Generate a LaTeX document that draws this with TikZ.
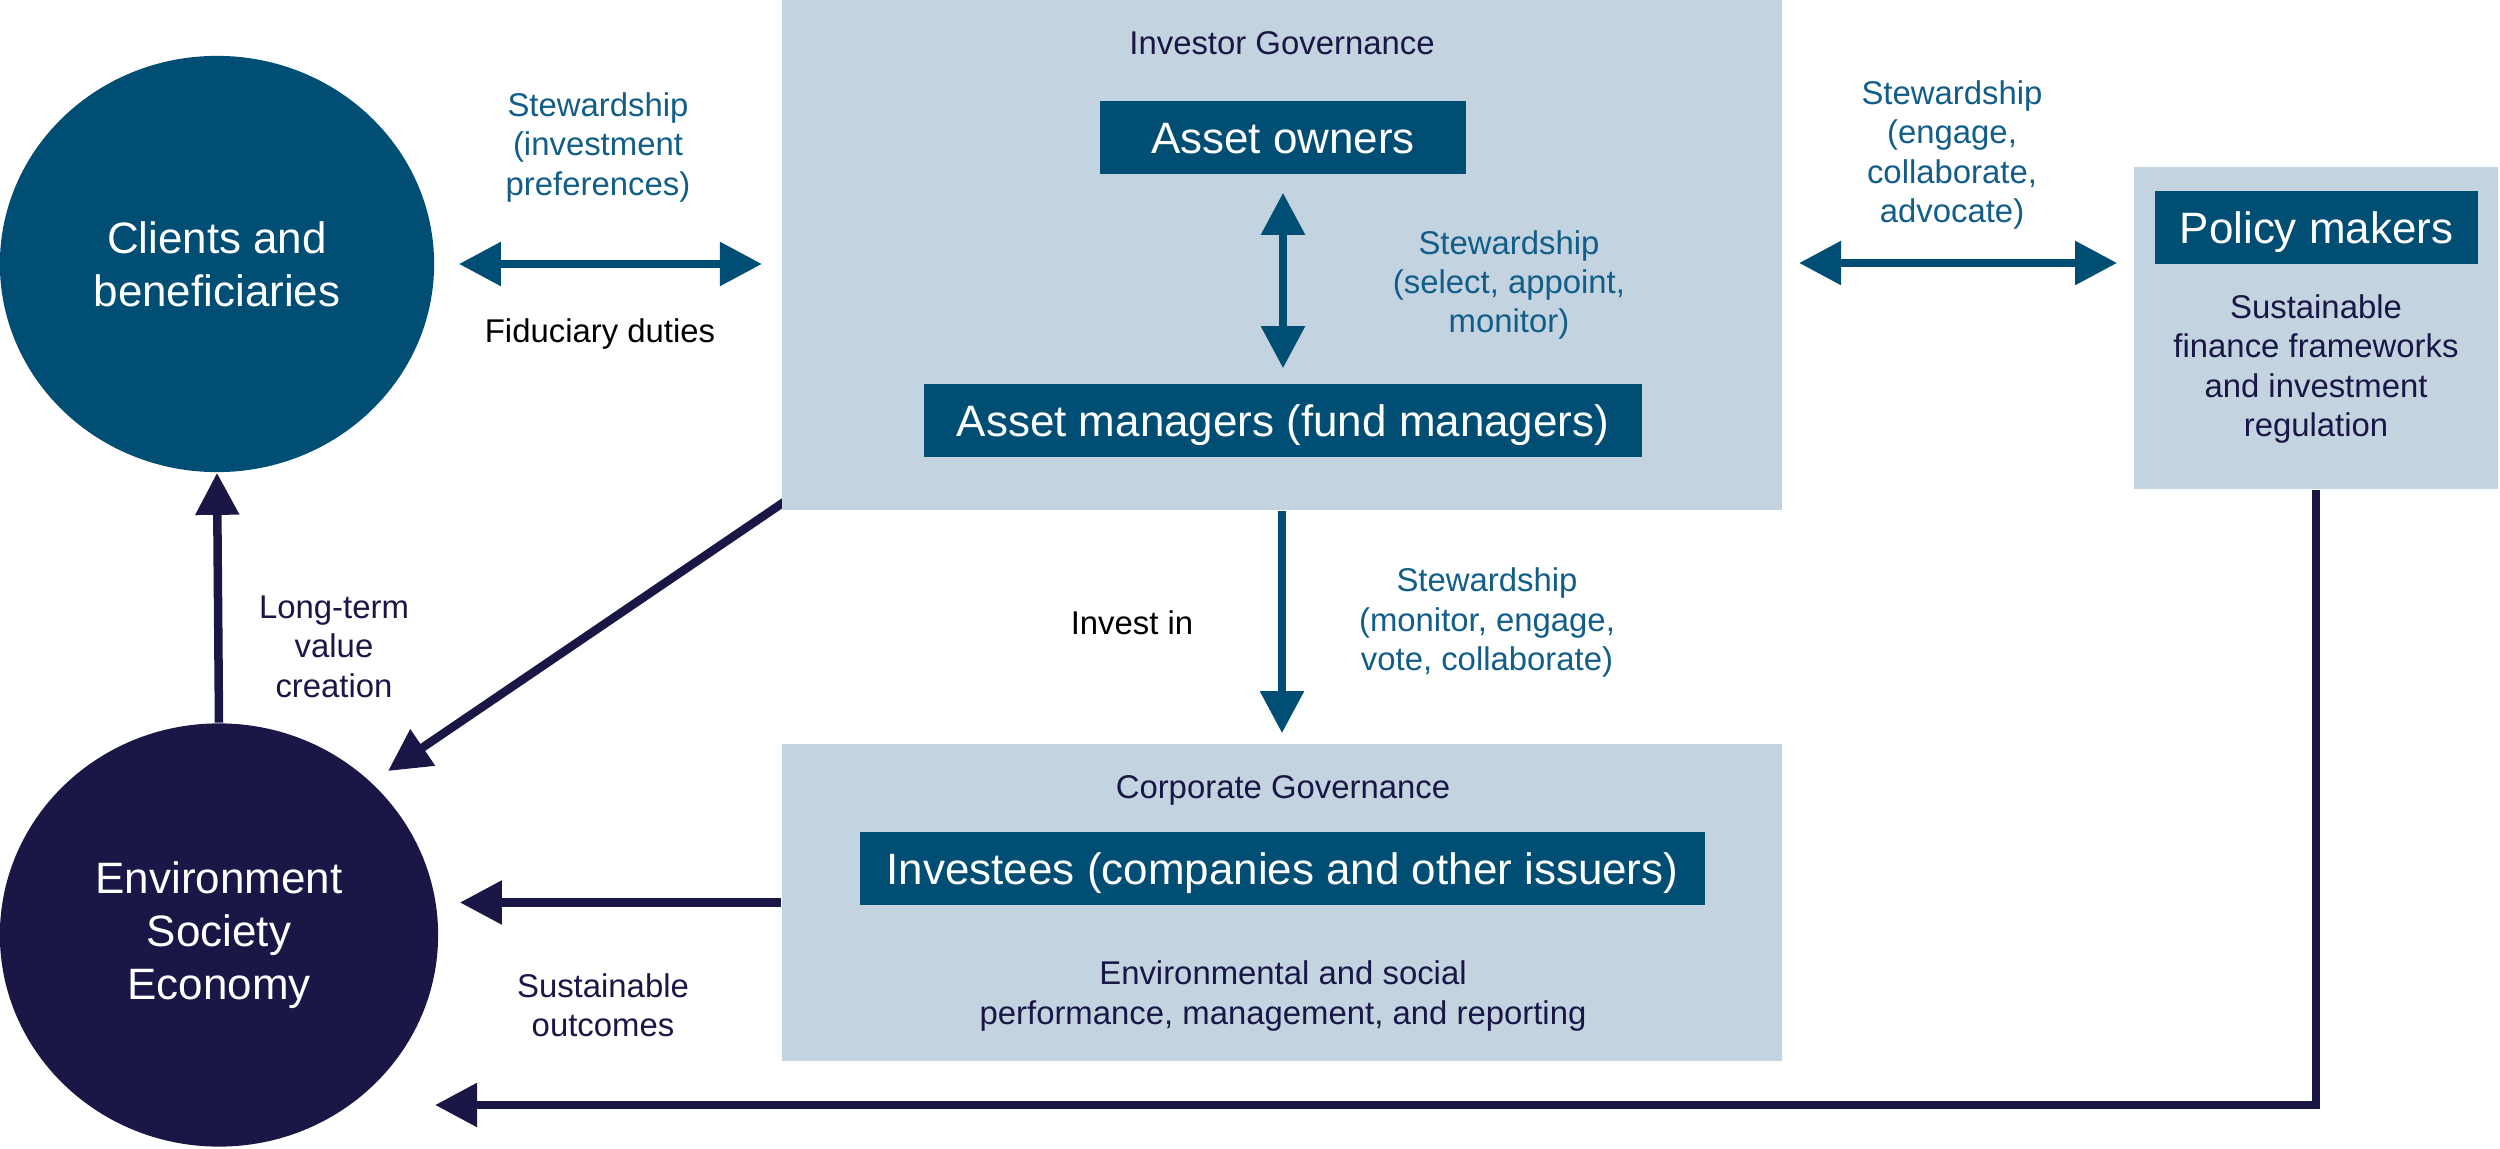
\documentclass[tikz,border=0pt]{standalone}
\usepackage{fontspec}
\setmainfont{Liberation Sans}
\usetikzlibrary{arrows.meta,shapes.geometric,backgrounds}
\definecolor{tealc}{HTML}{004E73}
\definecolor{navyc}{HTML}{1A1646}
\definecolor{lightc}{HTML}{C3D3DF}
\definecolor{stewc}{HTML}{125E88}
\begin{document}
\begin{tikzpicture}[x=0.01cm, y=-0.01cm,
  >={Triangle[length=0.42cm,width=0.42cm]},
  panel/.style={fill=lightc, inner sep=0pt},
  darkbox/.style={fill=tealc, text=white, inner sep=0pt, text height=8.9pt, text depth=0pt,
    font=\fontsize{12.5}{15}\selectfont},
  bigcirc/.style={ellipse, inner sep=0pt, text=white, align=center,
    font=\fontsize{12.5}{15}\selectfont},
  small/.style={font=\fontsize{9.35}{11.2}\selectfont, align=center, inner sep=0pt},
  stew/.style={small, text=stewc},
  navyt/.style={small, text=navyc},
  blk/.style={small, text=black},
  tline/.style={draw=tealc, line width=0.085cm},
  nline/.style={draw=navyc, line width=0.085cm}]
\useasboundingbox (0,0) rectangle (2500,1149);

% panels
\node[panel, minimum width=10cm, minimum height=5.1cm] (invgov) at (1282,255) {};
\node[panel, minimum width=10cm, minimum height=3.17cm] (corpgov) at (1282,902.5) {};
\node[panel, minimum width=3.64cm, minimum height=3.22cm] (policy) at (2316,328) {};

% dark boxes
\node[darkbox, minimum width=3.66cm, minimum height=0.73cm] (owners) at (1283,137.5) {Asset owners};
\node[darkbox, minimum width=7.18cm, minimum height=0.73cm] (managers) at (1283,420.5) {Asset managers (fund managers)};
\node[darkbox, minimum width=8.45cm, minimum height=0.73cm] (investees) at (1282.5,868.5) {Investees (companies and other issuers)};
\node[darkbox, minimum width=3.23cm, minimum height=0.73cm] (pmakers) at (2316.5,227.5) {Policy makers};

% circles
\node[bigcirc, fill=tealc, minimum width=4.34cm, minimum height=4.16cm] (clients) at (217,264) {Clients and\\beneficiaries};
\node[bigcirc, fill=navyc, minimum width=4.38cm, minimum height=4.23cm] (env) at (219,935) {Environment\\Society\\Economy};

% labels
\node[stew] (l1) at (598,147.5) {Stewardship\\(investment\\preferences)};
\node[blk, anchor=base] (l2) at (600,343) {Fiduciary duties};
\node[navyt, anchor=base] (l3) at (1282,55) {Investor Governance};
\node[stew] (l4) at (1509,285) {Stewardship\\(select, appoint,\\monitor)};
\node[stew] (l5) at (1952,155) {Stewardship\\(engage,\\collaborate,\\advocate)};
\node[navyt] (l6) at (2316,369) {Sustainable\\finance frameworks\\and investment\\regulation};
\node[navyt] (l7) at (334,646.5) {Long-term\\value\\creation};
\node[blk, anchor=base] (l8) at (1132,634) {Invest in};
\node[stew] (l9) at (1487,622.5) {Stewardship\\(monitor, engage,\\vote, collaborate)};
\node[navyt, anchor=base] (l10) at (1283,798.5) {Corporate Governance};
\node[navyt] (l11) at (1283,996) {Environmental and social\\performance, management, and reporting};
\node[navyt] (l12) at (603,1005) {Sustainable\\outcomes};

% free ends
\coordinate (dtip) at (388,771);
\coordinate (btip) at (435,1105);
\coordinate (ra) at ([yshift=-0.08cm]invgov.east);

% connectors
\draw[tline, <->, shorten <=0.24cm, shorten >=0.19cm] (clients.east) -- (clients.east -| invgov.west);
\draw[tline, <->, shorten <=0.18cm, shorten >=0.15cm] (owners.south) -- (managers.north);
\draw[tline, <->, shorten <=0.16cm, shorten >=0.16cm] (ra) -- (ra -| policy.west);
\draw[tline, ->, shorten >=0.10cm] (invgov.south) -- (corpgov.north);
\draw[nline, ->] (env.north) -- (clients.south);
\begin{scope}[on background layer]
\draw[nline, ->] ([shift={(18,-19)}]invgov.south west) -- (dtip);
\end{scope}
\draw[nline, ->, shorten >=0.21cm] (corpgov.west) -- (corpgov.west -| env.east);
\draw[nline, ->] (policy.south) |- (btip);
\end{tikzpicture}
\end{document}
